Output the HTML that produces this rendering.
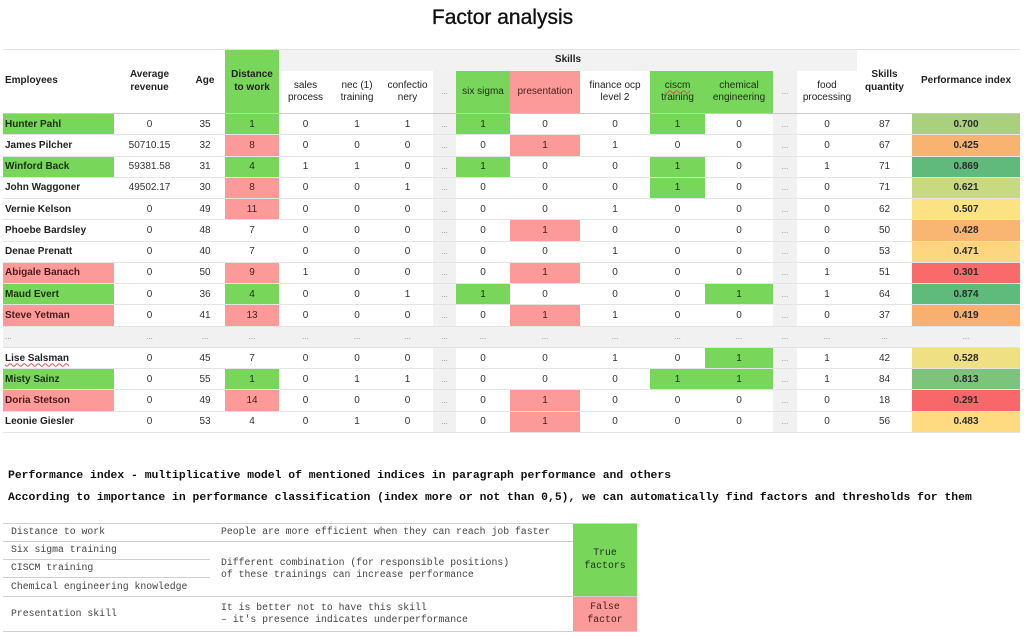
<!DOCTYPE html>
<html><head><meta charset="utf-8">
<style>
*{margin:0;padding:0}
body{width:1024px;height:637px;background:#fff;position:relative;overflow:hidden;font-family:"Liberation Sans",Arial,sans-serif;}
.title{position:absolute;left:0;top:7px;width:1005px;text-align:center;font-size:21px;line-height:21px;color:#111;-webkit-text-stroke:0.35px #111;}
.h{position:absolute;display:flex;align-items:center;justify-content:center;text-align:center;font-size:10px;line-height:12.5px;color:#222;box-sizing:border-box;}
.b{font-weight:bold;}
.g{background:#78d65a;}
.p{background:#fc9a9a;}
.e{background:#f1f1f1;}
.body{position:absolute;left:3px;top:113px;width:1017px;border-top:1px solid #c9c9c9;}
.r{height:21.28px;display:grid;grid-template-columns:111px 71px 40px 54px 53px 50px 51px 23px 54px 70px 70px 55px 68px 24px 60px 55px 108px;}
.r>div{display:flex;align-items:center;justify-content:center;border-bottom:1px solid #e4e4e4;box-sizing:border-box;font-size:10px;color:#333;white-space:nowrap;}
.r>div:first-child{justify-content:flex-start;padding-left:2px;font-weight:bold;color:#222;}
.r>div.g{color:#1b2f12;}
.r>div.p{color:#4d1b1b;}
.r>div.e{color:#888;font-size:8px;}
.r>div.pf{font-weight:bold;color:#2a2a2a;}
.r.dots>div{background:#f1f1f1;color:#888;font-size:8px;font-weight:normal;}
.sq{text-decoration:underline wavy #d65050;text-decoration-thickness:1px;text-underline-offset:2px;}
.mono{position:absolute;left:8px;font-family:"Liberation Mono","Courier New",monospace;font-size:11.4px;line-height:14px;font-weight:bold;color:#111;white-space:pre;}
.ln{position:absolute;height:1px;background:#d0d0d0;}
.bt{position:absolute;display:flex;align-items:center;font-family:"Liberation Mono","Courier New",monospace;font-size:9.8px;line-height:12.5px;color:#444;white-space:pre;}
</style></head><body>
<div class="title">Factor analysis</div>

<!-- header -->
<div style="position:absolute;left:3px;top:49px;width:1017px;height:1px;background:#e2e2e2"></div>
<div class="h b" style="left:279px;top:50px;width:578px;height:21px;background:#f2f2f2">Skills</div>
<div class="h b" style="left:3px;top:50px;width:111px;height:63px;justify-content:flex-start;padding-left:2px">Employees</div>
<div class="h b" style="left:114px;top:50px;width:71px;height:63px">Average<br>revenue</div>
<div class="h b" style="left:185px;top:50px;width:40px;height:63px">Age</div>
<div class="h b g" style="left:225px;top:50px;width:54px;height:63px">Distance<br>to work</div>
<div class="h" style="left:279px;top:71px;width:53px;height:42px">sales<br>process</div>
<div class="h" style="left:332px;top:71px;width:50px;height:42px">nec (1)<br>training</div>
<div class="h" style="left:382px;top:71px;width:51px;height:42px">confectio<br>nery</div>
<div class="h e" style="left:433px;top:71px;width:23px;height:42px;color:#888;font-size:8px">...</div>
<div class="h g" style="left:456px;top:71px;width:54px;height:42px;color:#1b2f12">six sigma</div>
<div class="h p" style="left:510px;top:71px;width:70px;height:42px;color:#4d1b1b">presentation</div>
<div class="h" style="left:580px;top:71px;width:70px;height:42px">finance ocp<br>level 2</div>
<div class="h g" style="left:650px;top:71px;width:55px;height:42px;color:#1b2f12"><span><span class="sq">ciscm</span><br>training</span></div>
<div class="h g" style="left:705px;top:71px;width:68px;height:42px;color:#1b2f12">chemical<br>engineering</div>
<div class="h e" style="left:773px;top:71px;width:24px;height:42px;color:#888;font-size:8px">...</div>
<div class="h" style="left:797px;top:71px;width:60px;height:42px">food<br>processing</div>
<div class="h b" style="left:857px;top:50px;width:55px;height:63px">Skills<br>quantity</div>
<div class="h b" style="left:912px;top:50px;width:108px;height:63px">Performance index</div>

<div class="body">
<div class="r"><div class="g">Hunter Pahl</div><div>0</div><div>35</div><div class="g">1</div><div>0</div><div>1</div><div>1</div><div class="e">...</div><div class="g">1</div><div>0</div><div>0</div><div class="g">1</div><div>0</div><div class="e">...</div><div>0</div><div>87</div><div class="pf" style="background:#a9d17d">0.700</div></div>
<div class="r"><div>James Pilcher</div><div>50710.15</div><div>32</div><div class="p">8</div><div>0</div><div>0</div><div>0</div><div class="e">...</div><div>0</div><div class="p">1</div><div>1</div><div>0</div><div>0</div><div class="e">...</div><div>0</div><div>67</div><div class="pf" style="background:#f9b371">0.425</div></div>
<div class="r"><div class="g">Winford Back</div><div>59381.58</div><div>31</div><div class="g">4</div><div>1</div><div>1</div><div>0</div><div class="e">...</div><div class="g">1</div><div>0</div><div>0</div><div class="g">1</div><div>0</div><div class="e">...</div><div>1</div><div>71</div><div class="pf" style="background:#5fba7c">0.869</div></div>
<div class="r"><div>John Waggoner</div><div>49502.17</div><div>30</div><div class="p">8</div><div>0</div><div>0</div><div>1</div><div class="e">...</div><div>0</div><div>0</div><div>0</div><div class="g">1</div><div>0</div><div class="e">...</div><div>0</div><div>71</div><div class="pf" style="background:#c8da80">0.621</div></div>
<div class="r"><div>Vernie Kelson</div><div>0</div><div>49</div><div class="p">11</div><div>0</div><div>0</div><div>0</div><div class="e">...</div><div>0</div><div>0</div><div>1</div><div>0</div><div>0</div><div class="e">...</div><div>0</div><div>62</div><div class="pf" style="background:#fbe384">0.507</div></div>
<div class="r"><div>Phoebe Bardsley</div><div>0</div><div>48</div><div>7</div><div>0</div><div>0</div><div>0</div><div class="e">...</div><div>0</div><div class="p">1</div><div>0</div><div>0</div><div>0</div><div class="e">...</div><div>0</div><div>50</div><div class="pf" style="background:#f9b572">0.428</div></div>
<div class="r"><div>Denae Prenatt</div><div>0</div><div>40</div><div>7</div><div>0</div><div>0</div><div>0</div><div class="e">...</div><div>0</div><div>0</div><div>1</div><div>0</div><div>0</div><div class="e">...</div><div>0</div><div>53</div><div class="pf" style="background:#fdd67f">0.471</div></div>
<div class="r"><div class="p">Abigale Banach</div><div>0</div><div>50</div><div class="p">9</div><div>1</div><div>0</div><div>0</div><div class="e">...</div><div>0</div><div class="p">1</div><div>0</div><div>0</div><div>0</div><div class="e">...</div><div>1</div><div>51</div><div class="pf" style="background:#f86b6a">0.301</div></div>
<div class="r"><div class="g">Maud Evert</div><div>0</div><div>36</div><div class="g">4</div><div>0</div><div>0</div><div>1</div><div class="e">...</div><div class="g">1</div><div>0</div><div>0</div><div>0</div><div class="g">1</div><div class="e">...</div><div>1</div><div>64</div><div class="pf" style="background:#5fbb7b">0.874</div></div>
<div class="r"><div class="p">Steve Yetman</div><div>0</div><div>41</div><div class="p">13</div><div>0</div><div>0</div><div>0</div><div class="e">...</div><div>0</div><div class="p">1</div><div>1</div><div>0</div><div>0</div><div class="e">...</div><div>0</div><div>37</div><div class="pf" style="background:#f9af6f">0.419</div></div>
<div class="r dots"><div>...</div><div>...</div><div>...</div><div>...</div><div>...</div><div>...</div><div>...</div><div>...</div><div>...</div><div>...</div><div>...</div><div>...</div><div>...</div><div>...</div><div>...</div><div>...</div><div>...</div></div>
<div class="r"><div><span class="sq">Lise Salsman</span></div><div>0</div><div>45</div><div>7</div><div>0</div><div>0</div><div>0</div><div class="e">...</div><div>0</div><div>0</div><div>1</div><div>0</div><div class="g">1</div><div class="e">...</div><div>1</div><div>42</div><div class="pf" style="background:#f0e084">0.528</div></div>
<div class="r"><div class="g">Misty Sainz</div><div>0</div><div>55</div><div class="g">1</div><div>0</div><div>1</div><div>1</div><div class="e">...</div><div>0</div><div>0</div><div>0</div><div class="g">1</div><div class="g">1</div><div class="e">...</div><div>1</div><div>84</div><div class="pf" style="background:#7dc37c">0.813</div></div>
<div class="r"><div class="p">Doria Stetson</div><div>0</div><div>49</div><div class="p">14</div><div>0</div><div>0</div><div>0</div><div class="e">...</div><div>0</div><div class="p">1</div><div>0</div><div>0</div><div>0</div><div class="e">...</div><div>0</div><div>18</div><div class="pf" style="background:#f8686a">0.291</div></div>
<div class="r"><div>Leonie Giesler</div><div>0</div><div>53</div><div>4</div><div>0</div><div>1</div><div>0</div><div class="e">...</div><div>0</div><div class="p">1</div><div>0</div><div>0</div><div>0</div><div class="e">...</div><div>0</div><div>56</div><div class="pf" style="background:#fedb80">0.483</div></div>
</div>

<div class="mono" style="top:469px">Performance index - multiplicative model of mentioned indices in paragraph performance and others</div>
<div class="mono" style="top:491px">According to importance in performance classification (index more or not than 0,5), we can automatically find factors and thresholds for them</div>

<!-- bottom table -->
<div style="position:absolute;left:573px;top:523.5px;width:64px;height:72.5px;background:#78d65a"></div>
<div style="position:absolute;left:573px;top:596.5px;width:64px;height:35px;background:#fc9a9a"></div>
<div class="ln" style="left:3px;top:523px;width:634px"></div>
<div class="ln" style="left:3px;top:541px;width:570px"></div>
<div class="ln" style="left:3px;top:559px;width:207px"></div>
<div class="ln" style="left:3px;top:577px;width:207px"></div>
<div class="ln" style="left:3px;top:596px;width:634px"></div>
<div class="ln" style="left:3px;top:631px;width:634px"></div>

<div class="bt" style="left:11px;top:524px;height:17px">Distance to work</div>
<div class="bt" style="left:11px;top:542px;height:17px">Six sigma training</div>
<div class="bt" style="left:11px;top:560px;height:17px">CISCM training</div>
<div class="bt" style="left:11px;top:578px;height:18px">Chemical engineering knowledge</div>
<div class="bt" style="left:11px;top:597px;height:34px">Presentation skill</div>

<div class="bt" style="left:221px;top:524px;height:17px">People are more efficient when they can reach job faster</div>
<div class="bt" style="left:221px;top:542px;height:54px">Different combination (for responsible positions)
of these trainings can increase performance</div>
<div class="bt" style="left:221px;top:597px;height:34px">It is better not to have this skill
– it's presence indicates underperformance</div>

<div class="bt" style="left:573px;top:523px;width:64px;height:73px;justify-content:center;text-align:center;color:#1e2e16">True
factors</div>
<div class="bt" style="left:573px;top:596px;width:64px;height:35px;justify-content:center;text-align:center;color:#3e1c1c">False
factor</div>
</body></html>
